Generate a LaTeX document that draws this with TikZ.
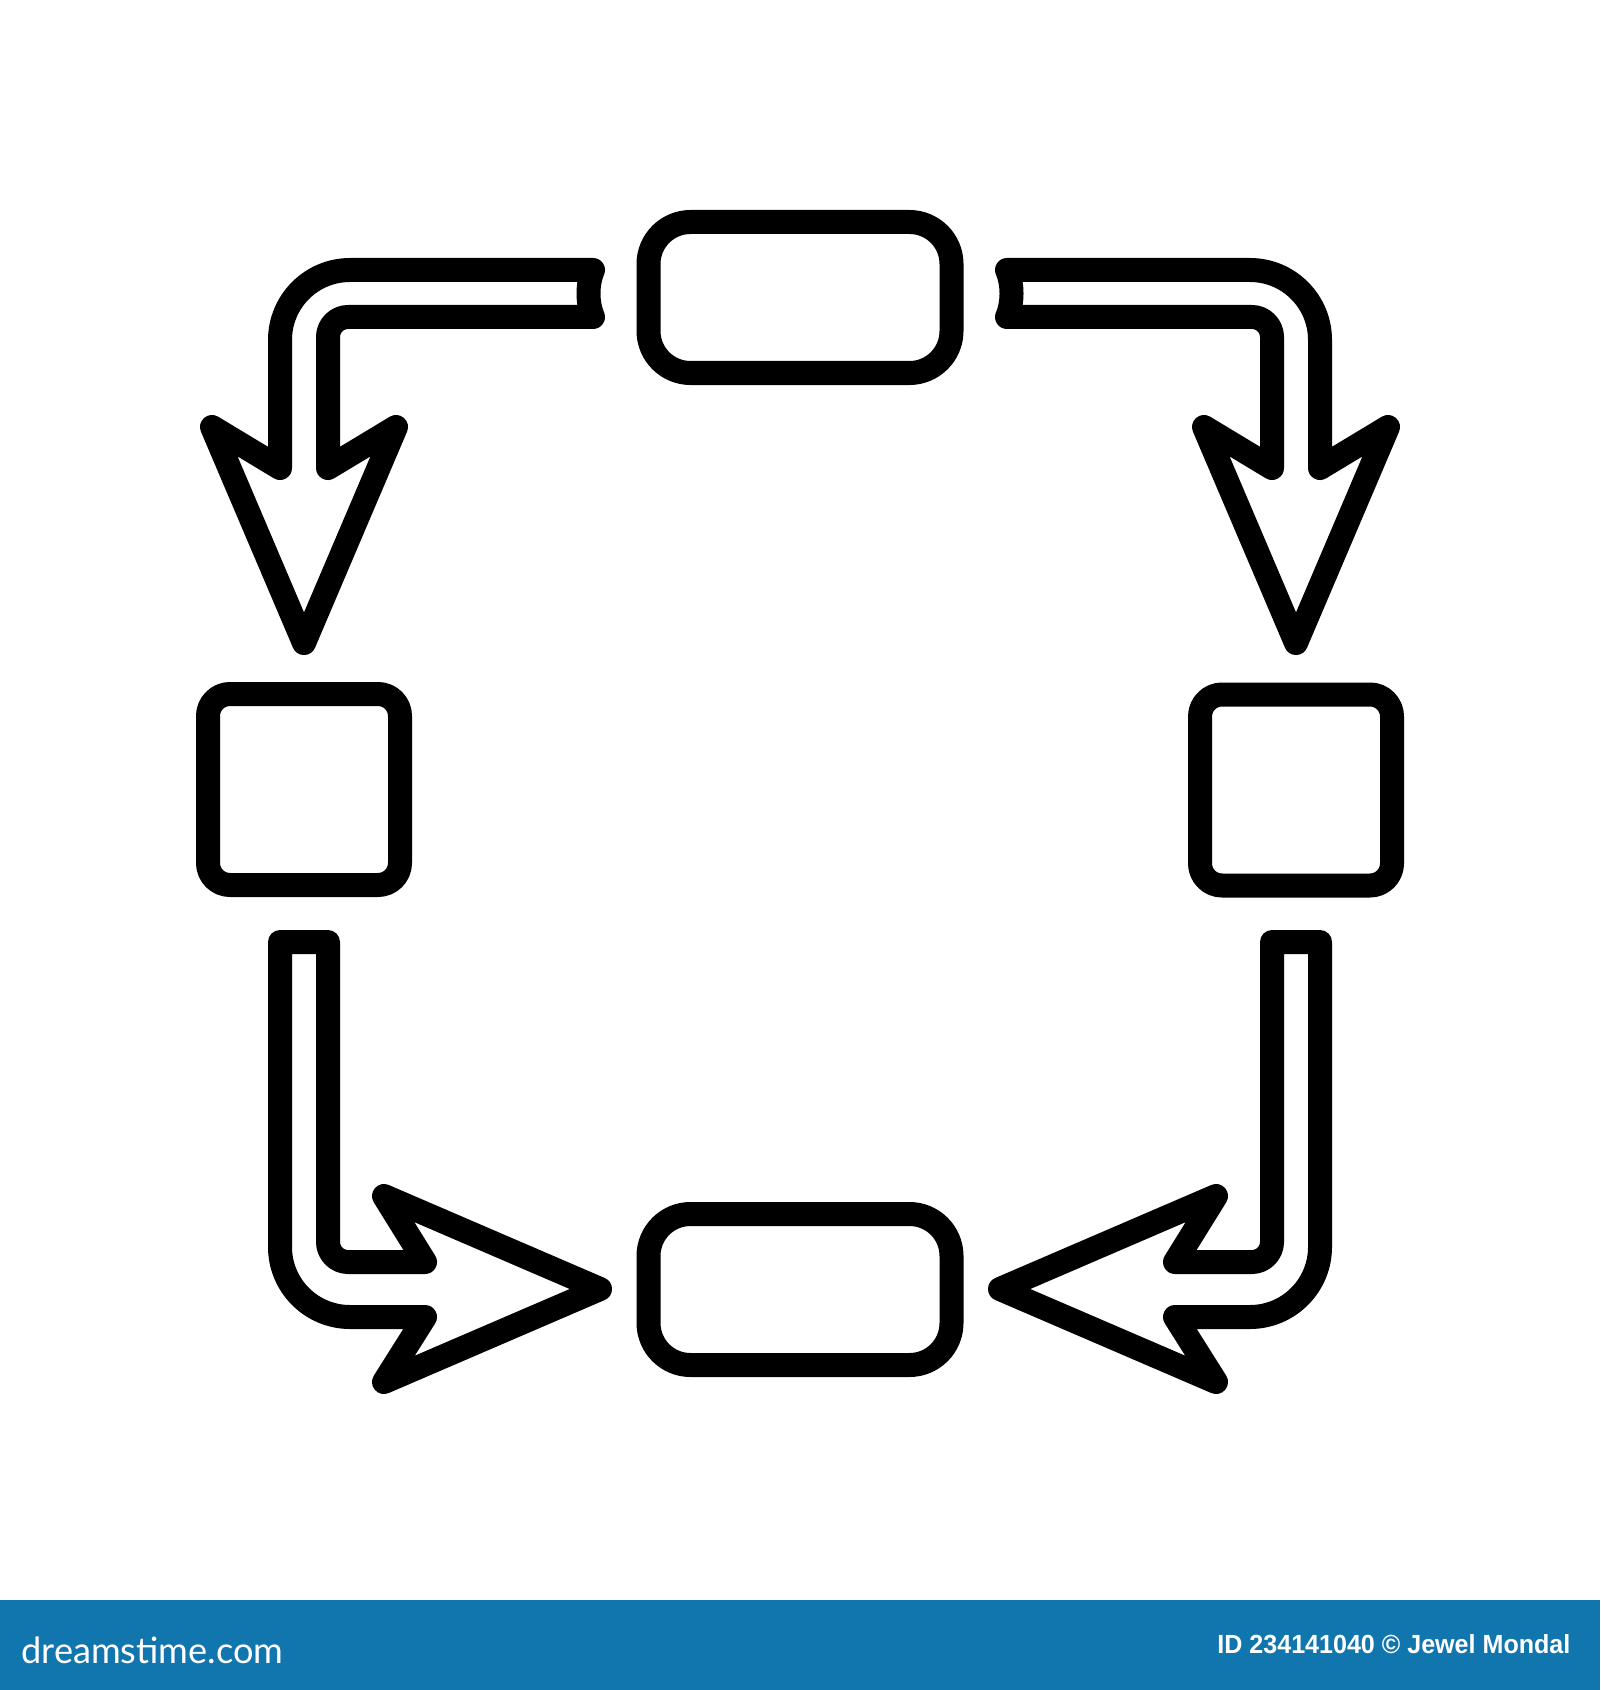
\documentclass[tikz,border=0pt]{standalone}
\usepackage{fontspec}
\setmainfont{Liberation Sans}
\newfontfamily\dsfont{Lato}
\usepackage{graphicx}
\definecolor{dsblue}{RGB}{17,118,174}
\tikzset{
  shapeline/.style={draw=black, line width=12pt, line join=round, line cap=round},
  roundbox/.style={shapeline, rectangle, inner sep=0pt, minimum width=151.5pt, minimum height=75.5pt, rounded corners=21pt},
  squarebox/.style={shapeline, rectangle, inner sep=0pt, minimum width=96pt, minimum height=95.5pt, rounded corners=11pt},
  hollowarrow/.style={shapeline},
  bannertext/.style={anchor=base west, inner sep=0pt, text=white},
}
\newcommand{\DiagTopArrow}{%
  \draw[hollowarrow] (593,270) -- (350,270) .. controls (311.4,270) and (280,301.4) .. (280,340)
    -- (280,468) -- (212,427) -- (304,643) -- (396,427) -- (328,468) -- (328,337)
    .. controls (328,326) and (337,317) .. (348,317) -- (593,317)
    .. controls (587,303) and (587,284) .. (593,270) -- cycle;}
\newcommand{\DiagBotArrow}{%
  \draw[hollowarrow] (280,942) -- (280,1247) .. controls (280,1285.6) and (311.4,1317) .. (350,1317)
    -- (425,1317) -- (384,1382) -- (600,1289) -- (384,1196) -- (425,1262) -- (348,1262)
    .. controls (337,1262) and (328,1253) .. (328,1242) -- (328,942) -- cycle;}
\begin{document}
\begin{tikzpicture}[x=0.5pt, y=-0.5pt]
  \useasboundingbox (0,0) rectangle (1600,1690);
  \fill[white] (0,0) rectangle (1600,1690);
  % boxes
  \node[roundbox] (topbox) at (800,297.5) {};
  \node[roundbox] (botbox) at (800,1289.5) {};
  \node[squarebox] (leftbox) at (304,789.5) {};
  \node[squarebox] (rightbox) at (1296,790) {};
  % arrows
  \DiagTopArrow
  \DiagBotArrow
  \begin{scope}[shift={(1600,0)}, xscale=-1]
    \DiagTopArrow
    \DiagBotArrow
  \end{scope}
  % banner
  \fill[dsblue] (0,1600) rectangle (1600,1690);
  \node[bannertext] (brand) at (21,1663) {\resizebox{131pt}{!}{\dsfont dreamstime.com}};
  \node[bannertext] (credit) at (1217,1653) {\resizebox{176.5pt}{9.5pt}{\bfseries ID 234141040 © Jewel Mondal}};
\end{tikzpicture}
\end{document}
